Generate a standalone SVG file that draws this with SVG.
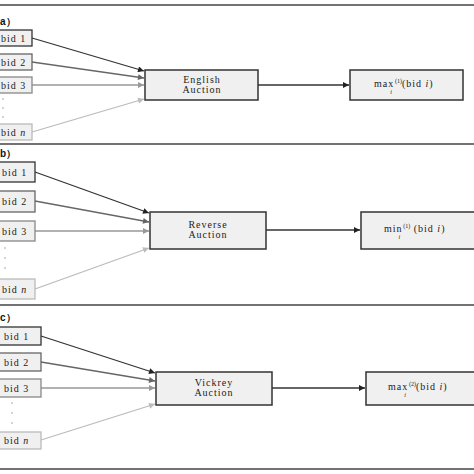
<svg xmlns="http://www.w3.org/2000/svg" width="474" height="474" viewBox="0 0 474 474">
<style>
.sep{stroke:#444;stroke-width:1.5}
.box{fill:#f0f0f0;stroke:#333;stroke-width:1.5}
.t{font-family:"Liberation Serif","Times New Roman",serif;font-size:10px;letter-spacing:1px;fill:#222}
.lab{font-family:"Liberation Sans",Arial,sans-serif;font-size:10px;font-weight:bold;fill:#111}
.c1{stroke:#333}.c2{stroke:#666}.c3{stroke:#999}.c4{stroke:#bbb}
.b1{fill:#f0f0f0;stroke:#333;stroke-width:1.3}
.b2{fill:#f0f0f0;stroke:#666;stroke-width:1.3}
.b3{fill:#f0f0f0;stroke:#888;stroke-width:1.3}
.b4{fill:#f0f0f0;stroke:#bbb;stroke-width:1.3}
.dot{fill:#888}
.sm{font-size:6px;letter-spacing:0}
</style>
<defs>
<marker id="m1" viewBox="0 0 10 10" refX="10" refY="5" markerWidth="8" markerHeight="6" markerUnits="userSpaceOnUse" orient="auto"><path d="M0,0 L10,5 L0,10 z" fill="#222"/></marker>
<marker id="m2" viewBox="0 0 10 10" refX="10" refY="5" markerWidth="8" markerHeight="6" markerUnits="userSpaceOnUse" orient="auto"><path d="M0,0 L10,5 L0,10 z" fill="#666"/></marker>
<marker id="m3" viewBox="0 0 10 10" refX="10" refY="5" markerWidth="8" markerHeight="6" markerUnits="userSpaceOnUse" orient="auto"><path d="M0,0 L10,5 L0,10 z" fill="#999"/></marker>
<marker id="m4" viewBox="0 0 10 10" refX="10" refY="5" markerWidth="8" markerHeight="6" markerUnits="userSpaceOnUse" orient="auto"><path d="M0,0 L10,5 L0,10 z" fill="#bbb"/></marker>
</defs>
<rect x="0" y="0" width="474" height="474" fill="#fff"/>
<g id="separators">
<line class="sep" x1="0" y1="5" x2="474" y2="5"/>
<line class="sep" x1="0" y1="144" x2="474" y2="144"/>
<line class="sep" x1="0" y1="305" x2="474" y2="305"/>
<line class="sep" x1="0" y1="469" x2="474" y2="469"/>
</g>
<g id="labels">
<text class="lab" x="0" y="25">a）</text>
<text class="lab" x="0" y="157">b）</text>
<text class="lab" x="0" y="321">c）</text>
</g>
<g id="connectors" fill="none" stroke-width="1.3">
<line class="c1" x1="32" y1="38" x2="144" y2="71" marker-end="url(#m1)"/>
<line class="c2" x1="32" y1="62" x2="144" y2="78" marker-end="url(#m2)"/>
<line class="c3" x1="32" y1="85" x2="144" y2="85" marker-end="url(#m3)"/>
<line class="c4" x1="32" y1="132" x2="144" y2="99" marker-end="url(#m4)"/>
<line class="c1" x1="258" y1="85" x2="349" y2="85" marker-end="url(#m1)"/>
<line class="c1" x1="35" y1="172" x2="149" y2="213" marker-end="url(#m1)"/>
<line class="c2" x1="35" y1="201" x2="149" y2="222" marker-end="url(#m2)"/>
<line class="c3" x1="35" y1="231" x2="149" y2="231" marker-end="url(#m3)"/>
<line class="c4" x1="35" y1="289" x2="149" y2="248" marker-end="url(#m4)"/>
<line class="c1" x1="266" y1="230" x2="360" y2="230" marker-end="url(#m1)"/>
<line class="c1" x1="41" y1="336" x2="155" y2="373" marker-end="url(#m1)"/>
<line class="c2" x1="41" y1="362" x2="155" y2="381" marker-end="url(#m2)"/>
<line class="c3" x1="41" y1="388" x2="155" y2="388" marker-end="url(#m3)"/>
<line class="c4" x1="41" y1="440" x2="155" y2="404" marker-end="url(#m4)"/>
<line class="c1" x1="272" y1="388" x2="365" y2="388" marker-end="url(#m1)"/>
</g>
<g id="a-bid1"><rect class="b1" x="-20" y="30" width="52" height="16"/><text class="t" x="1" y="41.5">bid 1</text></g>
<g id="a-bid2"><rect class="b2" x="-20" y="54" width="52" height="16"/><text class="t" x="1" y="65.5">bid 2</text></g>
<g id="a-bid3"><rect class="b3" x="-20" y="77" width="52" height="16"/><text class="t" x="1" y="88.5">bid 3</text></g>
<g id="a-dots"><circle class="dot" cx="3" cy="99" r="0.7"/><circle class="dot" cx="3" cy="108" r="0.7"/><circle class="dot" cx="3" cy="117" r="0.7"/></g>
<g id="a-bidn"><rect class="b4" x="-20" y="124" width="52" height="16"/><text class="t" x="1" y="135.5">bid <tspan font-style="italic">n</tspan></text></g>
<g id="a-english"><rect class="box" x="145" y="70" width="113" height="30"/><text class="t" x="202" y="83" text-anchor="middle">English</text><text class="t" x="202" y="93" text-anchor="middle">Auction</text></g>
<g id="a-result"><rect class="box" x="350" y="70" width="113" height="30"/><text class="t" x="374" y="87">max<tspan class="sm" font-style="italic" dx="-4" dy="7">i</tspan><tspan class="sm" dx="3" dy="-11">(1)</tspan><tspan dy="4">(bid </tspan><tspan font-style="italic">i</tspan>)</text></g>
<g id="b-bid1"><rect class="b1" x="-20" y="162" width="55" height="20"/><text class="t" x="2" y="175.5">bid 1</text></g>
<g id="b-bid2"><rect class="b2" x="-20" y="191" width="55" height="21"/><text class="t" x="2" y="205">bid 2</text></g>
<g id="b-bid3"><rect class="b3" x="-20" y="221" width="55" height="20"/><text class="t" x="2" y="234.5">bid 3</text></g>
<g id="b-dots"><circle class="dot" cx="5" cy="248" r="0.7"/><circle class="dot" cx="5" cy="258" r="0.7"/><circle class="dot" cx="5" cy="268" r="0.7"/></g>
<g id="b-bidn"><rect class="b4" x="-20" y="279" width="55" height="20"/><text class="t" x="2" y="292.5">bid <tspan font-style="italic">n</tspan></text></g>
<g id="b-reverse"><rect class="box" x="150" y="212" width="116" height="37"/><text class="t" x="208" y="228" text-anchor="middle">Reverse</text><text class="t" x="208" y="238" text-anchor="middle">Auction</text></g>
<g id="b-result"><rect class="box" x="361" y="212" width="120" height="37"/><text class="t" x="384" y="232">min<tspan class="sm" font-style="italic" dx="-4" dy="7">i</tspan><tspan class="sm" dx="3" dy="-11">(1)</tspan><tspan dy="4"> (bid </tspan><tspan font-style="italic">i</tspan>)</text></g>
<g id="c-bid1"><rect class="b1" x="-20" y="327" width="61" height="18"/><text class="t" x="4" y="339.5">bid 1</text></g>
<g id="c-bid2"><rect class="b2" x="-20" y="353" width="61" height="18"/><text class="t" x="4" y="365.5">bid 2</text></g>
<g id="c-bid3"><rect class="b3" x="-20" y="379" width="61" height="18"/><text class="t" x="4" y="391.5">bid 3</text></g>
<g id="c-dots"><circle class="dot" cx="12" cy="403" r="0.7"/><circle class="dot" cx="12" cy="413" r="0.7"/><circle class="dot" cx="12" cy="423" r="0.7"/></g>
<g id="c-bidn"><rect class="b4" x="-20" y="432" width="61" height="17"/><text class="t" x="4" y="444">bid <tspan font-style="italic">n</tspan></text></g>
<g id="c-vickrey"><rect class="box" x="156" y="372" width="116" height="33"/><text class="t" x="214" y="386" text-anchor="middle">Vickrey</text><text class="t" x="214" y="396" text-anchor="middle">Auction</text></g>
<g id="c-result"><rect class="box" x="366" y="372" width="115" height="33"/><text class="t" x="388" y="390">max<tspan class="sm" font-style="italic" dx="-4" dy="7">i</tspan><tspan class="sm" dx="3" dy="-11">(2)</tspan><tspan dy="4">(bid </tspan><tspan font-style="italic">i</tspan>)</text></g>
</svg>
